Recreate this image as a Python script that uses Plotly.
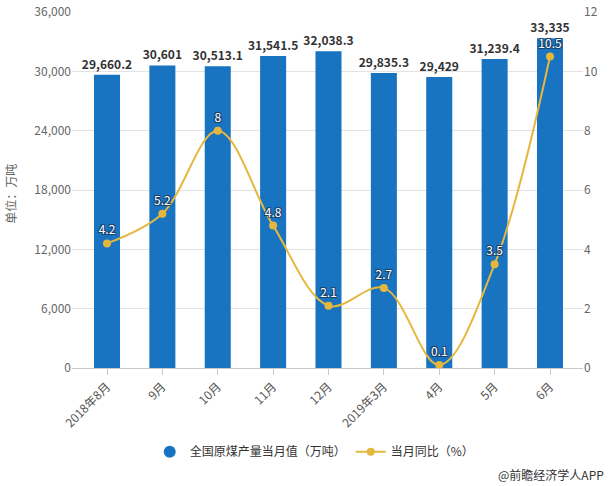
import plotly.graph_objects as go

categories = ["2018年8月", "9月", "10月", "11月", "12月", "2019年3月", "4月", "5月", "6月"]
output_vals = [29660.2, 30601, 30513.1, 31541.5, 32038.3, 29835.3, 29429, 31239.4, 33335]
yoy_vals = [4.2, 5.2, 8, 4.8, 2.1, 2.7, 0.1, 3.5, 10.5]
bar_name = "全国原煤产量当月值（万吨）"
line_name = "当月同比（%）"


def fmt(v):
    if float(v).is_integer():
        return f"{int(v):,}"
    return f"{v:,.1f}"


FONT = "Noto Sans CJK SC, Microsoft YaHei, sans-serif"
BAR_C = "#1874c1"
LINE_C = "#e6b73e"

fig = go.Figure()
fig.add_trace(go.Bar(
    x=list(range(len(categories))), y=output_vals, name=bar_name,
    marker=dict(color=BAR_C, line=dict(width=0)), width=0.47,
    text=[fmt(v) for v in output_vals], textposition="outside",
    constraintext="none",
    textfont=dict(family=FONT, size=12, color="#333", weight="bold"),
    cliponaxis=False, showlegend=False, yaxis="y",
))
fig.add_trace(go.Scatter(
    x=[None], y=[None], mode="markers", name=bar_name,
    marker=dict(color=BAR_C, size=12, symbol="circle"), yaxis="y",
))
fig.add_trace(go.Scatter(
    x=list(range(len(categories))), y=yoy_vals, name=line_name,
    mode="lines+markers+text", yaxis="y2",
    line=dict(color=LINE_C, width=2, shape="spline", smoothing=1.0),
    marker=dict(color=LINE_C, size=8),
    text=[str(v) for v in yoy_vals], textposition="top center",
    textfont=dict(family=FONT, size=12, color="white",
                  shadow="-1px -1px 0 #1d3f66, 1px -1px 0 #1d3f66, -1px 1px 0 #1d3f66, 1px 1px 0 #1d3f66"),
    cliponaxis=False,
))

fig.update_layout(
    width=610, height=486, autosize=False,
    margin=dict(l=72, r=27, t=12, b=118, autoexpand=False),
    paper_bgcolor="white", plot_bgcolor="white",
    font=dict(family=FONT, size=12, color="#555"),
    bargap=0.5,
    xaxis=dict(
        range=[-0.632, 8.596], tickmode="array",
        tickvals=list(range(len(categories))), ticktext=categories,
        tickangle=-45, showgrid=False, showline=True, linecolor="#c8c8c8",
        ticks="outside", ticklen=6, tickcolor="#c8c8c8",
        tickfont=dict(size=12, color="#555"), zeroline=False, automargin=False,
    ),
    yaxis=dict(
        range=[0, 36000], dtick=6000, tickformat=",",
        showgrid=True, gridcolor="#e3e3e3", gridwidth=1, zeroline=False,
        showline=False, ticks="", tickfont=dict(size=12, color="#666"),
        automargin=False,
    ),
    yaxis2=dict(
        range=[0, 12], dtick=2, overlaying="y", side="right",
        showgrid=False, zeroline=False, showline=False, ticks="",
        tickfont=dict(size=12, color="#666"), automargin=False,
    ),
    legend=dict(
        orientation="h", x=0.475, xanchor="center", y=-0.235, yanchor="middle",
        font=dict(size=12, color="#333"), itemwidth=30,
        bgcolor="rgba(0,0,0,0)",
    ),
    annotations=[
        dict(
            text="@前瞻经济学人APP", xref="paper", yref="paper",
            x=1.045, y=-0.3, xanchor="right", yanchor="middle", showarrow=False,
            font=dict(size=12, color="#333"),
        ),
        dict(
            text="单位：万吨", xref="paper", yref="paper",
            x=-0.121, y=0.49, xanchor="center", yanchor="middle", showarrow=False,
            textangle=-90, font=dict(size=12, color="#666"),
        ),
    ],
)

fig.write_html("out.html")
